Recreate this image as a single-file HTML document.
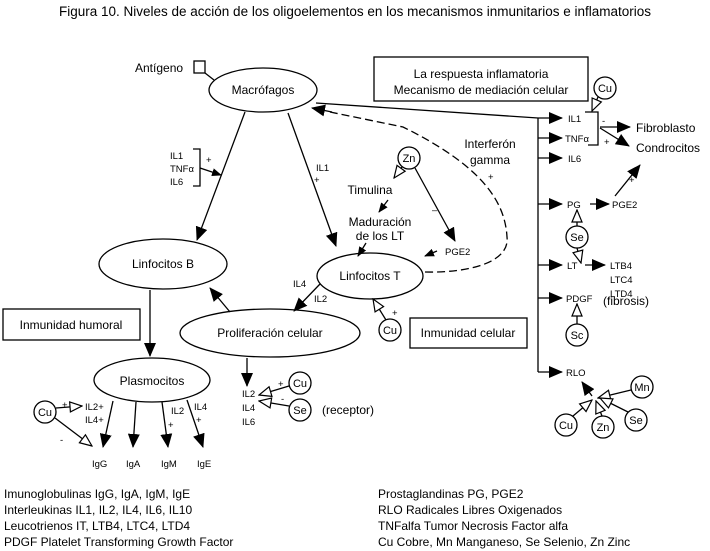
<!DOCTYPE html>
<html><head><meta charset="utf-8"><style>
html,body{margin:0;padding:0;background:#fff;}
svg{display:block;font-family:"Liberation Sans",Arial,sans-serif;}
</style></head><body>
<svg width="710" height="551" viewBox="0 0 710 551" xmlns="http://www.w3.org/2000/svg">
<defs>
<marker id="a" markerWidth="10" markerHeight="10" refX="9" refY="5" orient="auto" markerUnits="userSpaceOnUse"><path d="M0,1 L10,5 L0,9 Z" fill="#000"/></marker>
<marker id="b" markerWidth="14" markerHeight="12" refX="13" refY="6" orient="auto" markerUnits="userSpaceOnUse"><path d="M0,0 L14,6 L0,12 Z" fill="#000"/></marker>
<marker id="o" markerWidth="14" markerHeight="12" refX="13" refY="6" orient="auto" markerUnits="userSpaceOnUse"><path d="M1,1 L13,6 L1,11 Z" fill="#fff" stroke="#000" stroke-width="1.2"/></marker>
</defs>
<g fill="none" stroke="#000" stroke-width="1.3">
<text x="355" y="16" font-size="13.5" text-anchor="middle" fill="#000" stroke="none">Figura 10. Niveles de acción de los oligoelementos en los mecanismos inmunitarios e inflamatorios</text>
<rect x="194" y="61" width="11" height="12"/>
<line x1="205" y1="73" x2="214" y2="80"/>
<ellipse cx="263" cy="90" rx="54" ry="22"/>
<rect x="374" y="57" width="214" height="44"/>
<ellipse cx="163" cy="264" rx="64" ry="25"/>
<ellipse cx="370" cy="276" rx="53" ry="23"/>
<ellipse cx="270" cy="333" rx="90" ry="24"/>
<ellipse cx="152" cy="380" rx="58" ry="22"/>
<rect x="3" y="309" width="137" height="31"/>
<rect x="410" y="318" width="117" height="30"/>
<line x1="316" y1="103" x2="538" y2="118"/>
<line x1="538" y1="118" x2="538" y2="372"/>
<path d="M425,272 C470,273 510,262 507,237 C505,200 480,165 403,127 L330,112" stroke-dasharray="8,4"/>
<line x1="332" y1="112" x2="312" y2="108" marker-end="url(#b)"/>
<line x1="245" y1="112" x2="197" y2="240" marker-end="url(#b)"/>
<line x1="288" y1="113" x2="336" y2="246" marker-end="url(#b)"/>
<polyline points="193,149 200,149 200,186 193,186"/>
<line x1="200" y1="168" x2="221" y2="175" marker-end="url(#a)"/>
<line x1="415" y1="168" x2="455" y2="241" marker-end="url(#b)"/>
<line x1="388" y1="200" x2="379" y2="212" marker-end="url(#a)"/>
<line x1="366" y1="243" x2="358" y2="256" marker-end="url(#a)"/>
<line x1="437" y1="251" x2="425" y2="256" marker-end="url(#a)"/>
<line x1="402" y1="167" x2="394" y2="178" marker-end="url(#o)"/>
<line x1="320" y1="284" x2="294" y2="311" marker-end="url(#b)"/>
<line x1="230" y1="312" x2="210" y2="288" marker-end="url(#b)"/>
<line x1="386" y1="320" x2="373" y2="299" marker-end="url(#o)"/>
<line x1="150" y1="290" x2="150" y2="356" marker-end="url(#b)"/>
<line x1="113" y1="401" x2="103" y2="447" marker-end="url(#b)"/>
<line x1="136" y1="402" x2="133" y2="447" marker-end="url(#b)"/>
<line x1="162" y1="402" x2="168" y2="447" marker-end="url(#b)"/>
<line x1="187" y1="400" x2="203" y2="447" marker-end="url(#b)"/>
<circle cx="45" cy="412" r="11"/>
<line x1="56" y1="408" x2="82" y2="406" marker-end="url(#o)"/>
<line x1="55" y1="418" x2="92" y2="446" marker-end="url(#o)"/>
<line x1="247" y1="358" x2="247" y2="386" marker-end="url(#b)"/>
<circle cx="300" cy="383" r="11"/><circle cx="300" cy="410" r="11"/>
<line x1="289" y1="386" x2="259" y2="395" marker-end="url(#o)"/>
<line x1="289" y1="406" x2="259" y2="401" marker-end="url(#o)"/>
<circle cx="409" cy="158" r="11"/>
<circle cx="390" cy="330" r="11"/>
<line x1="538" y1="118" x2="562" y2="118" marker-end="url(#b)"/>
<line x1="538" y1="138" x2="562" y2="138" marker-end="url(#b)"/>
<line x1="538" y1="158" x2="562" y2="158" marker-end="url(#b)"/>
<line x1="538" y1="204" x2="562" y2="204" marker-end="url(#b)"/>
<line x1="538" y1="265" x2="562" y2="265" marker-end="url(#b)"/>
<line x1="538" y1="298" x2="562" y2="298" marker-end="url(#b)"/>
<line x1="538" y1="372" x2="562" y2="372" marker-end="url(#b)"/>
<polyline points="585,112 598,112 598,145 588,145"/>
<line x1="600" y1="127" x2="630" y2="127" marker-end="url(#b)"/>
<line x1="600" y1="128" x2="629" y2="146" marker-end="url(#b)"/>
<circle cx="605" cy="88" r="11"/>
<line x1="598" y1="97" x2="592" y2="111" marker-end="url(#o)"/>
<line x1="590" y1="204" x2="609" y2="204" marker-end="url(#b)"/>
<line x1="615" y1="196" x2="640" y2="165" marker-end="url(#b)"/>
<circle cx="577" cy="237" r="11"/>
<line x1="577" y1="226" x2="577" y2="210" marker-end="url(#o)"/>
<line x1="577" y1="248" x2="581" y2="263" marker-end="url(#o)"/>
<line x1="585" y1="265" x2="605" y2="265" marker-end="url(#b)"/>
<circle cx="577" cy="335" r="11"/>
<line x1="577" y1="324" x2="577" y2="304" marker-end="url(#o)"/>
<circle cx="642" cy="387" r="11"/><circle cx="566" cy="425" r="11"/><circle cx="603" cy="427" r="11"/><circle cx="636" cy="420" r="11"/>
<line x1="631" y1="390" x2="598" y2="398" marker-end="url(#o)"/>
<line x1="573" y1="416" x2="592" y2="400" marker-end="url(#o)"/>
<line x1="602" y1="416" x2="596" y2="401" marker-end="url(#o)"/>
<line x1="628" y1="412" x2="600" y2="398" marker-end="url(#o)"/>
<line x1="592" y1="396" x2="582" y2="382" marker-end="url(#b)"/>
</g>
<g fill="#000" font-size="12">
<text x="135" y="72">Antígeno</text>
<text x="263" y="94" text-anchor="middle">Macrófagos</text>
<text x="481" y="78" text-anchor="middle">La respuesta inflamatoria</text>
<text x="481" y="94" text-anchor="middle">Mecanismo de mediación celular</text>
<text x="163" y="268" text-anchor="middle">Linfocitos B</text>
<text x="370" y="280" text-anchor="middle">Linfocitos T</text>
<text x="270" y="337" text-anchor="middle">Proliferación celular</text>
<text x="152" y="385" text-anchor="middle">Plasmocitos</text>
<text x="71" y="329" text-anchor="middle">Inmunidad humoral</text>
<text x="468" y="337" text-anchor="middle">Inmunidad celular</text>
<text x="490" y="148" text-anchor="middle">Interferón</text>
<text x="490" y="164" text-anchor="middle">gamma</text>
<text x="370" y="194" text-anchor="middle">Timulina</text>
<text x="380" y="226" text-anchor="middle">Maduración</text>
<text x="380" y="240" text-anchor="middle">de los LT</text>
<text x="636" y="132">Fibroblasto</text>
<text x="636" y="152">Condrocitos</text>
<text x="603" y="305">(fibrosis)</text>
<text x="322" y="414">(receptor)</text>
<g text-anchor="middle" font-size="11">
<text x="409" y="162">Zn</text><text x="390" y="334">Cu</text><text x="45" y="416">Cu</text>
<text x="300" y="387">Cu</text><text x="300" y="414">Se</text><text x="605" y="92">Cu</text>
<text x="577" y="241">Se</text><text x="577" y="339">Sc</text><text x="642" y="391">Mn</text>
<text x="566" y="429">Cu</text><text x="603" y="431">Zn</text><text x="636" y="424">Se</text>
</g>
<g font-size="9.5">
<text x="170" y="159">IL1</text><text x="170" y="172">TNFα</text><text x="170" y="185">IL6</text>
<text x="206" y="163">+</text>
<text x="316" y="171">IL1</text><text x="314" y="183">+</text>
<text x="445" y="255">PGE2</text><text x="432" y="213">–</text>
<text x="488" y="180">+</text>
<text x="293" y="287">IL4</text><text x="314" y="302">IL2</text>
<text x="392" y="316">+</text>
<text x="85" y="410">IL2+</text><text x="85" y="423">IL4+</text>
<text x="62" y="408">+</text><text x="60" y="443">-</text>
<text x="171" y="414">IL2</text><text x="168" y="428">+</text>
<text x="194" y="410">IL4</text><text x="196" y="423">+</text>
<text x="242" y="397">IL2</text><text x="242" y="411">IL4</text><text x="242" y="425">IL6</text>
<text x="278" y="387">+</text><text x="281" y="402">-</text>
<text x="92" y="467">IgG</text><text x="126" y="467">IgA</text><text x="161" y="467">IgM</text><text x="197" y="467">IgE</text>
<text x="568" y="122">IL1</text><text x="565" y="142">TNFα</text><text x="568" y="162">IL6</text>
<text x="602" y="124">-</text><text x="604" y="145">+</text>
<text x="567" y="208">PG</text><text x="612" y="208">PGE2</text><text x="629" y="183">+</text>
<text x="567" y="269">LT</text>
<text x="610" y="269">LTB4</text><text x="610" y="283">LTC4</text><text x="610" y="297">LTD4</text>
<text x="566" y="302">PDGF</text><text x="566" y="376">RLO</text>
</g>
<g font-size="12">
<text x="4" y="498">Imunoglobulinas IgG, IgA, IgM, IgE</text>
<text x="4" y="514">Interleukinas IL1, IL2, IL4, IL6, IL10</text>
<text x="4" y="530">Leucotrienos IT, LTB4, LTC4, LTD4</text>
<text x="4" y="546">PDGF Platelet Transforming Growth Factor</text>
<text x="378" y="498">Prostaglandinas PG, PGE2</text>
<text x="378" y="514">RLO Radicales Libres Oxigenados</text>
<text x="378" y="530">TNFalfa Tumor Necrosis Factor alfa</text>
<text x="378" y="546">Cu Cobre, Mn Manganeso, Se Selenio, Zn Zinc</text>
</g>
</g>
</svg>
</body></html>
